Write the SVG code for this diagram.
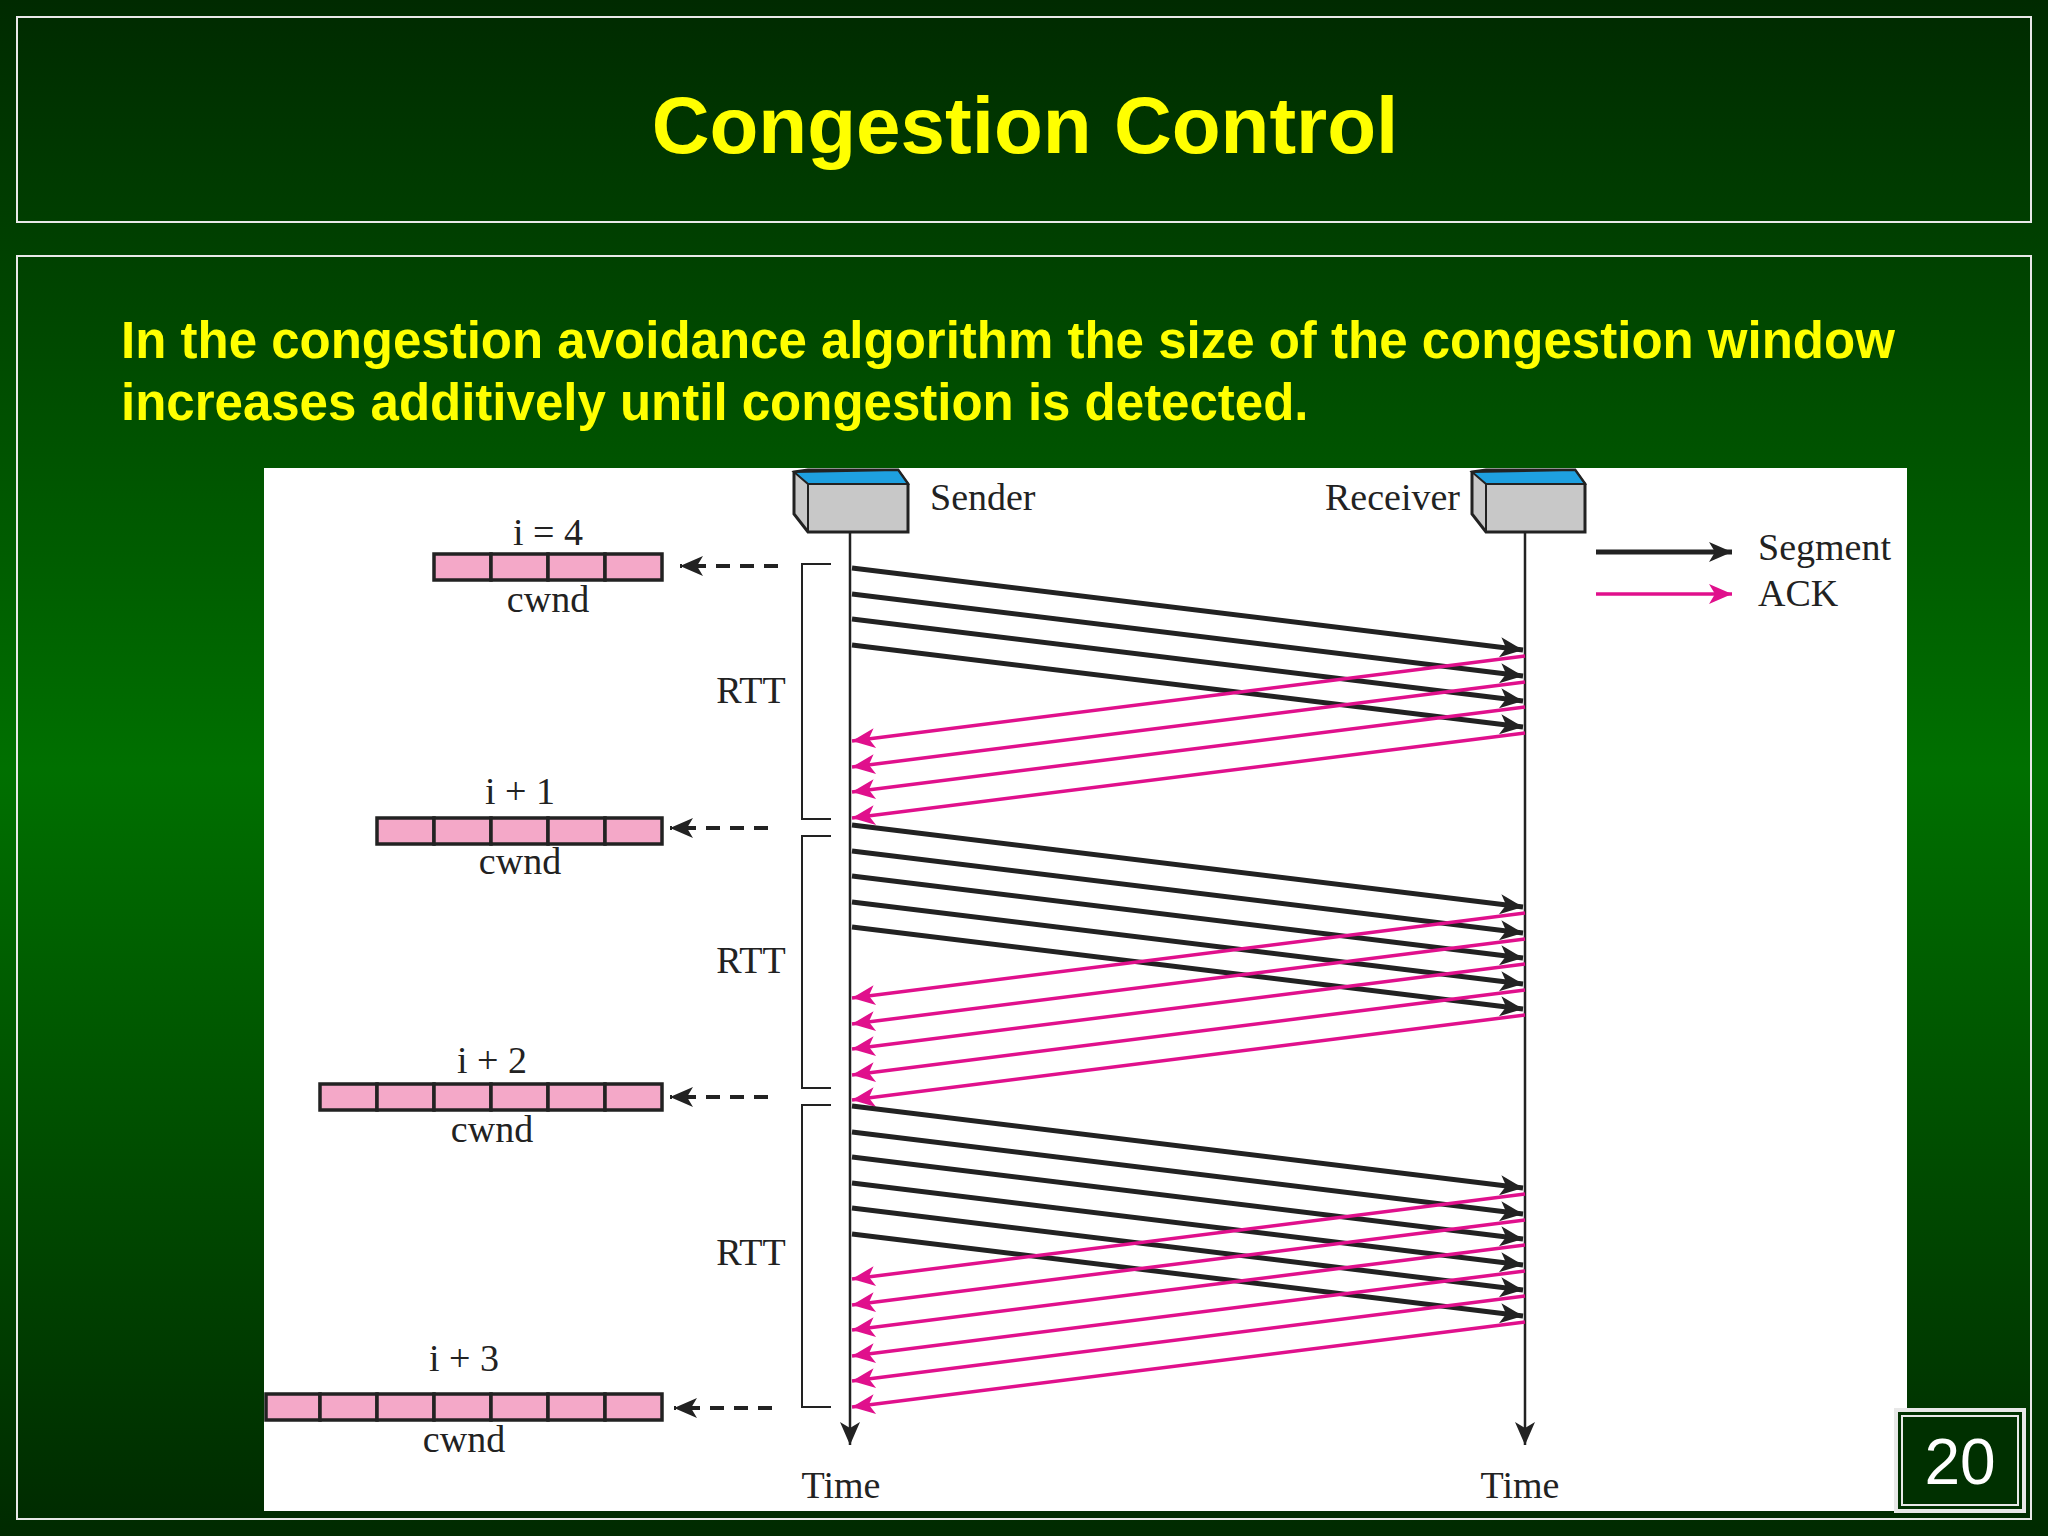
<svg xmlns="http://www.w3.org/2000/svg" width="2048" height="1536" viewBox="0 0 2048 1536">
<defs>
<linearGradient id="bg" x1="0" y1="0" x2="0" y2="1">
<stop offset="0" stop-color="#002a00"/><stop offset="0.5" stop-color="#007000"/><stop offset="1" stop-color="#002a00"/>
</linearGradient>
<marker id="ab" viewBox="0 0 10 10" refX="9" refY="5" markerWidth="10" markerHeight="10" orient="auto" markerUnits="userSpaceOnUse" style="overflow:visible"><path d="M-14,-5 L9,5 L-14,15 L-8,5 Z" fill="#222"/></marker>
<marker id="ap" viewBox="0 0 10 10" refX="9" refY="5" markerWidth="10" markerHeight="10" orient="auto" markerUnits="userSpaceOnUse" style="overflow:visible"><path d="M-14,-5 L9,5 L-14,15 L-8,5 Z" fill="#e0108c"/></marker>
<style>
.seg{stroke:#222;stroke-width:5;fill:none;marker-end:url(#ab)}
.ack{stroke:#e0108c;stroke-width:3.5;fill:none;marker-end:url(#ap)}
.dash{stroke:#222;stroke-width:4;stroke-dasharray:14,10;fill:none;marker-end:url(#ab)}
.cell{fill:#f4a8c8;stroke:#222;stroke-width:3.5}
.brk{fill:none;stroke:#222;stroke-width:2}
.t{font-family:"Liberation Serif",serif;font-size:38px;fill:#222}
.frame{fill:none;stroke:#e8e8e8;stroke-width:2}
</style>
</defs>
<rect width="2048" height="1536" fill="url(#bg)"/>
<rect class="frame" x="17" y="17" width="2014" height="205"/>
<rect class="frame" x="17" y="256" width="2014" height="1263"/>
<text x="1025" y="153" text-anchor="middle" font-family="Liberation Sans,Arial,sans-serif" font-weight="bold" font-size="80" fill="#ffff00">Congestion Control</text>
<text font-family="Liberation Sans,Arial,sans-serif" font-weight="bold" font-size="51" fill="#ffff00"><tspan x="121" y="358">In the congestion avoidance algorithm the size of the congestion window</tspan><tspan x="121" y="420">increases additively until congestion is detected.</tspan></text>
<rect x="264" y="468" width="1643" height="1043" fill="#fff"/>
<g id="sender">
<path d="M794,472 L808,470 L898,470 L908,484 L908,532 L808,532 L794,514 Z" fill="#c8c8c8" stroke="#222" stroke-width="3"/>
<path d="M794,472 L898,470 L908,484 L808,484 Z" fill="#1ea0e0" stroke="#222" stroke-width="2"/>
<line x1="808" y1="484" x2="808" y2="532" stroke="#222" stroke-width="2"/>
<text class="t" x="930" y="510">Sender</text>
<line x1="850" y1="532" x2="850" y2="1445" stroke="#222" stroke-width="2.5" marker-end="url(#ab)"/>
<text class="t" x="841" y="1498" text-anchor="middle">Time</text>
</g>
<g id="receiver">
<path d="M1472,472 L1486,470 L1575,470 L1585,484 L1585,532 L1486,532 L1472,514 Z" fill="#c8c8c8" stroke="#222" stroke-width="3"/>
<path d="M1472,472 L1575,470 L1585,484 L1486,484 Z" fill="#1ea0e0" stroke="#222" stroke-width="2"/>
<line x1="1486" y1="484" x2="1486" y2="532" stroke="#222" stroke-width="2"/>
<text class="t" x="1460" y="510" text-anchor="end">Receiver</text>
<line x1="1525" y1="532" x2="1525" y2="1445" stroke="#222" stroke-width="2.5" marker-end="url(#ab)"/>
<text class="t" x="1520" y="1498" text-anchor="middle">Time</text>
</g>
<g id="legend">
<line class="seg" x1="1596" y1="552" x2="1732" y2="552"/>
<text class="t" x="1758" y="560" font-size="36">Segment</text>
<line class="ack" x1="1596" y1="594" x2="1732" y2="594"/>
<text class="t" x="1758" y="606" font-size="36">ACK</text>
</g>
<g id="connectors">
<line class="seg" x1="852" y1="568" x2="1523" y2="650"/>
<line class="seg" x1="852" y1="594" x2="1523" y2="676"/>
<line class="seg" x1="852" y1="619" x2="1523" y2="701"/>
<line class="seg" x1="852" y1="645" x2="1523" y2="727"/>
<line class="ack" x1="1525" y1="656" x2="852" y2="741"/>
<line class="ack" x1="1525" y1="682" x2="852" y2="767"/>
<line class="ack" x1="1525" y1="707" x2="852" y2="792"/>
<line class="ack" x1="1525" y1="733" x2="852" y2="818"/>
<line class="seg" x1="852" y1="825" x2="1523" y2="907"/>
<line class="seg" x1="852" y1="851" x2="1523" y2="933"/>
<line class="seg" x1="852" y1="876" x2="1523" y2="958"/>
<line class="seg" x1="852" y1="902" x2="1523" y2="984"/>
<line class="seg" x1="852" y1="927" x2="1523" y2="1009"/>
<line class="ack" x1="1525" y1="913" x2="852" y2="998"/>
<line class="ack" x1="1525" y1="939" x2="852" y2="1024"/>
<line class="ack" x1="1525" y1="964" x2="852" y2="1049"/>
<line class="ack" x1="1525" y1="990" x2="852" y2="1075"/>
<line class="ack" x1="1525" y1="1015" x2="852" y2="1100"/>
<line class="seg" x1="852" y1="1106" x2="1523" y2="1188"/>
<line class="seg" x1="852" y1="1132" x2="1523" y2="1214"/>
<line class="seg" x1="852" y1="1157" x2="1523" y2="1239"/>
<line class="seg" x1="852" y1="1183" x2="1523" y2="1265"/>
<line class="seg" x1="852" y1="1208" x2="1523" y2="1290"/>
<line class="seg" x1="852" y1="1234" x2="1523" y2="1316"/>
<line class="ack" x1="1525" y1="1194" x2="852" y2="1279"/>
<line class="ack" x1="1525" y1="1220" x2="852" y2="1305"/>
<line class="ack" x1="1525" y1="1245" x2="852" y2="1330"/>
<line class="ack" x1="1525" y1="1271" x2="852" y2="1356"/>
<line class="ack" x1="1525" y1="1296" x2="852" y2="1381"/>
<line class="ack" x1="1525" y1="1322" x2="852" y2="1407"/>
<line class="dash" x1="778" y1="566" x2="680" y2="566"/>
<line class="dash" x1="768" y1="828" x2="670" y2="828"/>
<line class="dash" x1="768" y1="1097" x2="670" y2="1097"/>
<line class="dash" x1="772" y1="1408" x2="674" y2="1408"/>
</g>
<g id="rtt">
<path class="brk" d="M831,564 H802 V819 H831"/>
<path class="brk" d="M831,836 H802 V1088 H831"/>
<path class="brk" d="M831,1105 H802 V1407 H831"/>
<text class="t" x="751" y="703" text-anchor="middle">RTT</text>
<text class="t" x="751" y="973" text-anchor="middle">RTT</text>
<text class="t" x="751" y="1265" text-anchor="middle">RTT</text>
</g>
<g id="cwnd1">
<rect class="cell" x="434" y="554" width="57" height="26"/><rect class="cell" x="491" y="554" width="57" height="26"/><rect class="cell" x="548" y="554" width="57" height="26"/><rect class="cell" x="605" y="554" width="57" height="26"/>
<text class="t" x="548" y="545" text-anchor="middle">i = 4</text>
<text class="t" x="548" y="612" text-anchor="middle">cwnd</text>
</g>
<g id="cwnd2">
<rect class="cell" x="377" y="818" width="57" height="26"/><rect class="cell" x="434" y="818" width="57" height="26"/><rect class="cell" x="491" y="818" width="57" height="26"/><rect class="cell" x="548" y="818" width="57" height="26"/><rect class="cell" x="605" y="818" width="57" height="26"/>
<text class="t" x="520" y="804" text-anchor="middle">i + 1</text>
<text class="t" x="520" y="874" text-anchor="middle">cwnd</text>
</g>
<g id="cwnd3">
<rect class="cell" x="320" y="1084" width="57" height="26"/><rect class="cell" x="377" y="1084" width="57" height="26"/><rect class="cell" x="434" y="1084" width="57" height="26"/><rect class="cell" x="491" y="1084" width="57" height="26"/><rect class="cell" x="548" y="1084" width="57" height="26"/><rect class="cell" x="605" y="1084" width="57" height="26"/>
<text class="t" x="492" y="1073" text-anchor="middle">i + 2</text>
<text class="t" x="492" y="1142" text-anchor="middle">cwnd</text>
</g>
<g id="cwnd4">
<rect class="cell" x="266" y="1394" width="54" height="26"/><rect class="cell" x="320" y="1394" width="57" height="26"/><rect class="cell" x="377" y="1394" width="57" height="26"/><rect class="cell" x="434" y="1394" width="57" height="26"/><rect class="cell" x="491" y="1394" width="57" height="26"/><rect class="cell" x="548" y="1394" width="57" height="26"/><rect class="cell" x="605" y="1394" width="57" height="26"/>
<text class="t" x="464" y="1371" text-anchor="middle">i + 3</text>
<text class="t" x="464" y="1452" text-anchor="middle">cwnd</text>
</g>
<g id="page">
<rect x="1896" y="1410" width="128" height="101" fill="#003000" stroke="#e8e8e8" stroke-width="4"/>
<rect x="1902" y="1416" width="116" height="89" fill="none" stroke="#e8e8e8" stroke-width="2"/>
<text x="1960" y="1484" text-anchor="middle" font-family="Liberation Sans,Arial,sans-serif" font-size="64" fill="#fff">20</text>
</g>
</svg>
